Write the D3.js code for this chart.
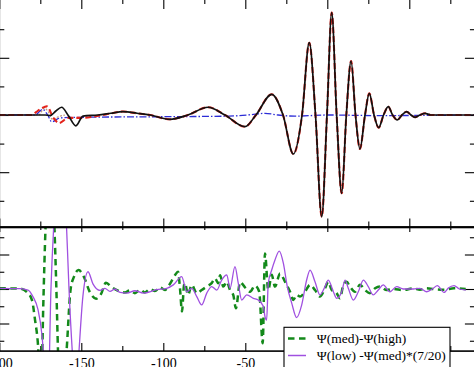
<!DOCTYPE html>
<html>
<head>
<meta charset="utf-8">
<script src="https://cdnjs.cloudflare.com/ajax/libs/d3/7.8.5/d3.min.js"></script>
<style>
body { margin: 0; background: #fff; overflow: hidden; }
svg { display: block; }
.lbl text { font-family: "Liberation Serif", "Times New Roman", serif; font-size: 14px; fill: #000; }
.legend text { font-family: "Liberation Serif", "Times New Roman", serif; font-size: 13.5px; fill: #000; }
</style>
</head>
<body>
<script>
// ---- data: [time, value] pairs ----

// top panel, solid black waveform
var psiBlack = [[-200,0],[-172,0],[-169,-0.01],[-165.5,0.07],[-162,0.135],[-157.7,-0.02],[-153.3,-0.19],
  [-149,-0.02],[-140,0],[-132,0.03],[-124.6,0.058],[-116,0.03],[-108,0],[-96,-0.075],[-85,0],
  [-72.7,0.135],[-62.4,0],[-50.2,-0.205],[-43.5,0],[-33.9,0.362],[-27,0],[-20.7,-0.682],[-15.4,0],
  [-11,1.264],[-7.2,0],[-3.4,-1.778],[-0.2,0],[2.7,1.789],[5.7,0],[8.8,-1.369],[11.6,0],[14.5,0.944],
  [17.2,0],[19.9,-0.594],[23,0],[25.6,0.379],[28.5,0],[31.3,-0.222],[34.3,0],[37.2,0.145],[39.8,0],
  [42.7,-0.087],[45.5,0],[48.4,0.058],[51,0],[53.5,-0.04],[56.5,0],[59.6,0.03],[63,0],[90,0]];

// top panel, red dashed
var psiRed = [[-200,0],[-180,0],[-177.6,0.05],[-174,0.12],[-171,0.15],[-167,-0.05],[-163.5,-0.14],
  [-158,-0.05],[-150,-0.05],[-143,-0.03],[-135,0.01],[-124.6,0.06],[-116,0.03],[-108,0],[-96,-0.075],
  [-85,0],[-72.7,0.135],[-62.4,0],[-50.2,-0.205],[-43.5,0],[-33.9,0.362],[-27,0],[-20.7,-0.682],
  [-15.4,0],[-11,1.264],[-7.2,0],[-3.4,-1.778],[-0.2,0],[2.7,1.789],[5.7,0],[8.8,-1.369],[11.6,0],
  [14.5,0.944],[17.2,0],[19.9,-0.594],[23,0],[25.6,0.379],[28.5,0],[31.3,-0.222],[34.3,0],[37.2,0.145],
  [39.8,0],[42.7,-0.087],[45.5,0],[48.4,0.058],[51,0],[53.5,-0.04],[56.5,0],[59.6,0.03],[63,0],[90,0]];

// top panel, blue dash-dot
var psiBlue = [[-200,0],[-178,0],[-175.5,0.06],[-173.6,0.1],[-170.5,0],[-168,-0.12],[-163,-0.05],
  [-150,-0.04],[-100,-0.03],[-60,-0.02],[-45,0.01],[-38,0.03],[-30,0],[-20,-0.02],[0,0],[30,-0.01],[90,0]];

// top panel, faint dotted
var psiTan = [[-178,0],[-176,0],[-172.5,0.12],[-170,0.05],[-167.5,-0.08],[-164,-0.03],[-160,0]];

// bottom panel, Psi(med)-Psi(high)
var diffMedHigh = [[-200,0.02],[-187.4,0.01],[-183.1,-0.09],[-180.1,-0.32],[-178.2,-0.9],[-176.4,-1.62],
  [-174.6,-3.2],[-173.2,-0.5],[-171.8,1.8],[-169,4],[-166.4,1.8],[-165.2,0],[-164.2,-1.8],[-162.3,-3.6],
  [-159,-1.8],[-156.5,0],[-154.5,0.35],[-151.7,0.55],[-148.4,0.35],[-144.7,-0.1],[-141,-0.28],
  [-138,-0.15],[-135,0.18],[-131.3,0.05],[-127.6,-0.05],[-123.4,-0.1],[-120.3,-0.04],[-117.3,-0.12],
  [-114,-0.02],[-111.2,-0.1],[-108,0],[-105.1,-0.06],[-102,0.05],[-99,-0.03],[-97,0.08],[-95.9,0.15],
  [-92.9,0.4],[-91,0.5],[-89.8,0],[-88.6,-0.65],[-87.4,0.1],[-86.8,0.17],[-84.9,-0.17],[-82.7,0.12],
  [-79.6,-0.12],[-76.6,-0.03],[-73.5,0.07],[-70.5,0.17],[-68.5,0.31],[-66.5,0.17],[-65.4,0.4],
  [-63.4,0.07],[-61.3,0.21],[-59.3,-0.03],[-57.3,-0.18],[-55.7,-0.56],[-53.2,0.2],[-50.2,0.05],
  [-47.1,-0.08],[-44.1,0.1],[-41.5,-0.08],[-39.4,-1.57],[-38,1.03],[-36,-0.03],[-33.9,0.41],
  [-31.9,0.07],[-28.8,0.45],[-25.8,0.21],[-22.7,-0.08],[-20.7,-0.32],[-18.7,-0.17],[-16.6,-0.22],
  [-13.6,-0.08],[-10.5,0.12],[-7.5,-0.03],[-4.5,-0.22],[-1.4,0.02],[0.6,0.21],[2.7,-0.03],[5.7,-0.12],
  [7.7,-0.27],[9.8,0.12],[11.8,0.21],[13.8,0.07],[16.9,-0.08],[19.9,0.12],[23,-0.03],[26,-0.12],
  [29.1,0.02],[32.1,0.07],[36.2,-0.03],[40.2,0],[46.3,-0.03],[52.4,0.02],[56.5,-0.02],[60.6,0.02],
  [64.6,0],[71.2,-0.02],[77.3,0.02],[84.4,0]];

// bottom panel, Psi(low)-Psi(med)*(7/20)
var diffLowMed = [[-200,0.02],[-187.4,0.01],[-182.5,-0.03],[-179.5,-0.22],[-176.4,-0.6],[-174,-1.33],
  [-172.1,-2.5],[-170.5,-3.6],[-168.5,0],[-166,2.5],[-163,4.2],[-159.6,2.5],[-157.5,0],[-154.5,-2.5],
  [-153.2,-3.2],[-151.4,-1.8],[-149,-0.2],[-145.9,0.5],[-142.9,0.15],[-138.6,-0.04],[-135.6,0.02],
  [-132.5,-0.07],[-129.5,0],[-126.4,-0.1],[-122.1,-0.12],[-117.3,-0.05],[-112.2,-0.12],[-104,-0.02],
  [-97.9,0.02],[-93.9,0.12],[-88.8,0.36],[-85.7,-0.08],[-82.7,0.02],[-79.6,-0.22],[-76.6,-0.46],
  [-73.5,-0.12],[-70.5,0.07],[-67.4,-0.03],[-64.4,0.26],[-61.3,0.41],[-59.3,0.02],[-56.3,0.65],
  [-54.3,0.17],[-52.2,-0.32],[-49.1,-0.17],[-45.1,-0.27],[-42.1,-0.32],[-39,-0.5],[-38,-0.8],[-37,-0.9],
  [-36,0.17],[-33.9,0.55],[-31.9,0.84],[-29.3,1.1],[-26.8,0.75],[-24.4,0.07],[-21.7,-0.41],
  [-18.7,-0.83],[-15.6,-0.46],[-12.6,0.26],[-10.5,0.55],[-7.5,0.21],[-4.5,-0.17],[-1.4,0.07],[0.6,0.26],
  [3.7,-0.08],[5.7,-0.27],[8.8,-0.08],[10.8,0.26],[12.8,0.02],[15.9,-0.32],[18.9,-0.08],[22,0.26],
  [25,0.07],[28,-0.17],[31.1,-0.03],[34.1,0.12],[38.2,-0.08],[42.3,0.07],[46.3,0],[52.4,0],[56.5,0.02],
  [60.6,-0.08],[64.6,0.02],[67.1,0.1],[71.2,-0.1],[73.8,0.03],[77.3,0.1],[80.5,0],[84.4,-0.03]];

// ticks and labels (labels under the legend box are not visible in the picture)
var xMajor = [-200, -150, -100, -50, 0, 50];
var xMinor = [-175, -125, -75, -25, 25, 75];
var yMajor = [-1, 0, 1];
var yMinor = [-1.5, -0.5, 0.5, 1.5];
var xLabels = [-200, -150, -100, -50];
var legendNames = ["\u03A8(med)-\u03A8(high)", "\u03A8(low) -\u03A8(med)*(7/20)"];

var W = 474, H = 367;

var svg = d3.select("body").append("svg")
    .attr("width", W)
    .attr("height", H);

// scales (the frame runs a bit past the window on the left/top)
var x = d3.scaleLinear().domain([-200, 90]).range([-0.7, 474.9]);
var yTop = d3.scaleLinear().domain([-1.967, 2.028]).range([227.5, -1]);
var yBot = d3.scaleLinear().domain([-1.8, 1.8]).range([351.1, 226.9]);

var defs = svg.append("defs");
defs.append("clipPath").attr("id", "clipTop").append("rect")
    .attr("x", x(-200)).attr("y", yTop(2.028))
    .attr("width", x(90) - x(-200)).attr("height", yTop(-1.967) - yTop(2.028));
defs.append("clipPath").attr("id", "clipBot").append("rect")
    .attr("x", x(-200)).attr("y", yBot(1.8))
    .attr("width", x(90) - x(-200)).attr("height", yBot(-1.8) - yBot(1.8));

// inward ticks, no domain line
function ticks(axis, values, size, tx, ty) {
    var g = svg.append("g")
        .attr("transform", "translate(" + tx + "," + ty + ")")
        .call(axis.tickValues(values).tickSize(size).tickFormat(""));
    g.select(".domain").remove();
    g.selectAll("line").attr("stroke", "#000").attr("stroke-width", 1.1);
    return g;
}

function panelTicks(yScale, topLen, bottomLen) {
    var x0 = x.range()[0], x1 = x.range()[1];
    var yt = yScale.range()[1], yb = yScale.range()[0];
    ticks(d3.axisTop(x), xMajor, -topLen[0], 0, yt);
    ticks(d3.axisTop(x), xMinor, -topLen[1], 0, yt);
    ticks(d3.axisBottom(x), xMajor, -bottomLen[0], 0, yb);
    ticks(d3.axisBottom(x), xMinor, -bottomLen[1], 0, yb);
    ticks(d3.axisLeft(yScale), yMajor, -10, x0, 0);
    ticks(d3.axisLeft(yScale), yMinor, -5, x0, 0);
    ticks(d3.axisRight(yScale), yMajor, -10, x1, 0);
    ticks(d3.axisRight(yScale), yMinor, -5, x1, 0);
}

panelTicks(yTop, [10, 5], [9, 6]);
panelTicks(yBot, [5, 3], [8, 5]);

// lines
var lineTop = d3.line()
    .x(function(d) { return x(d[0]); })
    .y(function(d) { return yTop(d[1]); })
    .curve(d3.curveMonotoneX);

var lineBot = d3.line()
    .x(function(d) { return x(d[0]); })
    .y(function(d) { return yBot(d[1]); })
    .curve(d3.curveMonotoneX);

var gTop = svg.append("g").attr("clip-path", "url(#clipTop)");

gTop.append("path").datum(psiBlue)
    .attr("d", lineTop).attr("fill", "none")
    .attr("stroke", "#2c2cd6").attr("stroke-width", 1.3)
    .attr("stroke-dasharray", "7,2,1.5,2");

gTop.append("path").datum(psiTan)
    .attr("d", lineTop).attr("fill", "none")
    .attr("stroke", "#c49a7a").attr("stroke-width", 1.2)
    .attr("stroke-dasharray", "2,1.5");

gTop.append("path").datum(psiRed)
    .attr("d", lineTop).attr("fill", "none")
    .attr("stroke", "#e3231b").attr("stroke-width", 2.1)
    .attr("stroke-dasharray", "6,3");

gTop.append("path").datum(psiBlack)
    .attr("d", lineTop).attr("fill", "none")
    .attr("stroke", "#111").attr("stroke-width", 1.7);

var gBot = svg.append("g").attr("clip-path", "url(#clipBot)");

gBot.append("path").datum(diffMedHigh)
    .attr("d", lineBot).attr("fill", "none")
    .attr("stroke", "#13891a").attr("stroke-width", 2.5)
    .attr("stroke-dasharray", "6.5,4.5");

gBot.append("path").datum(diffLowMed)
    .attr("d", lineBot).attr("fill", "none")
    .attr("stroke", "#a050e0").attr("stroke-width", 1.3);

// frames
[yTop, yBot].forEach(function(s) {
    svg.append("rect")
        .attr("x", x.range()[0]).attr("y", s.range()[1])
        .attr("width", x.range()[1] - x.range()[0])
        .attr("height", s.range()[0] - s.range()[1])
        .attr("fill", "none").attr("stroke", "#000").attr("stroke-width", 1.6);
});

// x tick labels under the lower panel
var lbl = svg.append("g")
    .attr("class", "lbl")
    .attr("transform", "translate(0,367.5)")
    .call(d3.axisBottom(x).tickValues(xLabels).tickSize(0).tickFormat(function(d) { return String(d); }));
lbl.select(".domain").remove();
lbl.selectAll("text").attr("y", 0).attr("dy", 0)
    .attr("font-family", null).attr("font-size", null);

// legend
var leg = svg.append("g").attr("class", "legend");
leg.append("rect")
    .attr("x", 284).attr("y", 327.3).attr("width", 166).attr("height", 60)
    .attr("fill", "#fff").attr("stroke", "#000").attr("stroke-width", 1.1);

var legStyle = [
    { color: "#13891a", width: 2.5, dash: "6.5,4.5", ly: 338.5, ty: 343 },
    { color: "#a050e0", width: 1.5, dash: null, ly: 355.5, ty: 359.5 }
];

legendNames.forEach(function(name, i) {
    var s = legStyle[i];
    leg.append("line")
        .attr("x1", 288).attr("x2", 306).attr("y1", s.ly).attr("y2", s.ly)
        .attr("stroke", s.color).attr("stroke-width", s.width)
        .attr("stroke-dasharray", s.dash);
    leg.append("text")
        .attr("x", 316.7).attr("y", s.ty)
        .text(name);
});
</script>
</body>
</html>
